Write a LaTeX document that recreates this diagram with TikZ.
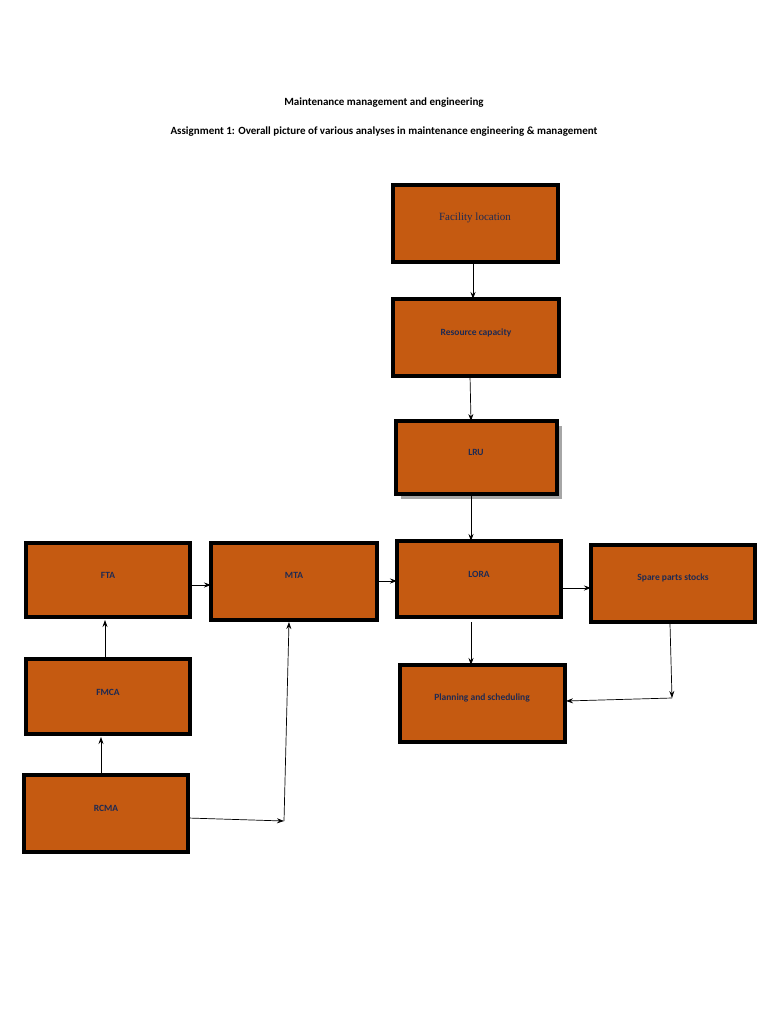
\documentclass[tikz,border=0pt]{standalone}
\usepackage{fontspec}
\setmainfont{Carlito}
\usetikzlibrary{arrows.meta,shadows}
\definecolor{boxfill}{HTML}{C55A11}
\definecolor{boxtext}{HTML}{1F2A52}
\begin{document}
\begin{tikzpicture}[x=1pt,y=-1pt,
 box/.style={draw=black,line width=3.5pt,fill=boxfill,inner sep=0pt},
 lbl/.style={font=\bfseries\fontsize{9.5}{11}\selectfont,text=boxtext},
 arr/.style={-{Stealth[length=7pt,width=5pt]},line width=0.7pt}]
\useasboundingbox (0,0) rectangle (768,1024);
\node[font=\bfseries\fontsize{11}{13}\selectfont] (t1) at (384,103) {Maintenance management and engineering};
\node[font=\bfseries\fontsize{11}{13}\selectfont] (t2) at (384,132) {Assignment 1: Overall picture of various analyses in maintenance engineering \& management};
\newcommand{\bx}[5]{\draw[box] (#2,#3) rectangle (#4,#5); \coordinate (#1-nw) at (#2,#3); \coordinate (#1-se) at (#4,#5);}
\draw[box] (393,185) rectangle (558,262); \node[font=\fontsize{11}{13}\selectfont\rmfamily,text=boxtext] (fac) at (475,218) {\fontspec{Liberation Serif}Facility location};
\coordinate (facS) at (473,262);
\draw[box] (393,299) rectangle (559,376); \node[lbl] (res) at (476,333) {Resource capacity};
\coordinate (resN) at (473,299); \coordinate (resS) at (470,376);
\fill[black!35] (401,426) rectangle (562,499);
\draw[box] (396,421) rectangle (557,494); \node[lbl] (lru) at (476,452) {LRU};
\coordinate (lruN) at (471,421); \coordinate (lruS) at (471,494);
\draw[box] (26,543) rectangle (190,617); \node[lbl] (fta) at (108,575) {FTA};
\draw[box] (211,543) rectangle (377,620); \node[lbl] (mta) at (294,575) {MTA};
\draw[box] (397,541) rectangle (561,617); \node[lbl] (lora) at (479,574) {LORA};
\draw[box] (591,545) rectangle (755,622); \node[lbl] (spare) at (673,578) {Spare parts stocks};
\draw[box] (26,659) rectangle (190,734); \node[lbl] (fmca) at (108,692) {FMCA};
\draw[box] (400,665) rectangle (565,742); \node[lbl] (plan) at (482,698) {Planning and scheduling};
\draw[box] (24,775) rectangle (188,852); \node[lbl] (rcma) at (106,808) {RCMA};
\coordinate (c1) at (284,821); \coordinate (c2) at (672,698);
\draw[arr] (facS) -- (resN);
\draw[arr] (resS) -- (lruN);
\draw[arr] (lruS) -- (471,541);
\draw[arr] (190,585) -- (211,585);
\draw[arr] (377,581) -- (397,581);
\draw[arr] (561,588) -- (591,588);
\draw[arr] (105,659) -- (105,620);
\draw[arr] (101,775) -- (101,737);
\draw[arr] (188,818) -- (c1);
\draw[arr] (c1) -- (289,622);
\draw[arr] (471,622) -- (471,665);
\draw[arr] (670,624) -- (c2);
\draw[arr] (c2) -- (566,701);
\end{tikzpicture}
\end{document}
